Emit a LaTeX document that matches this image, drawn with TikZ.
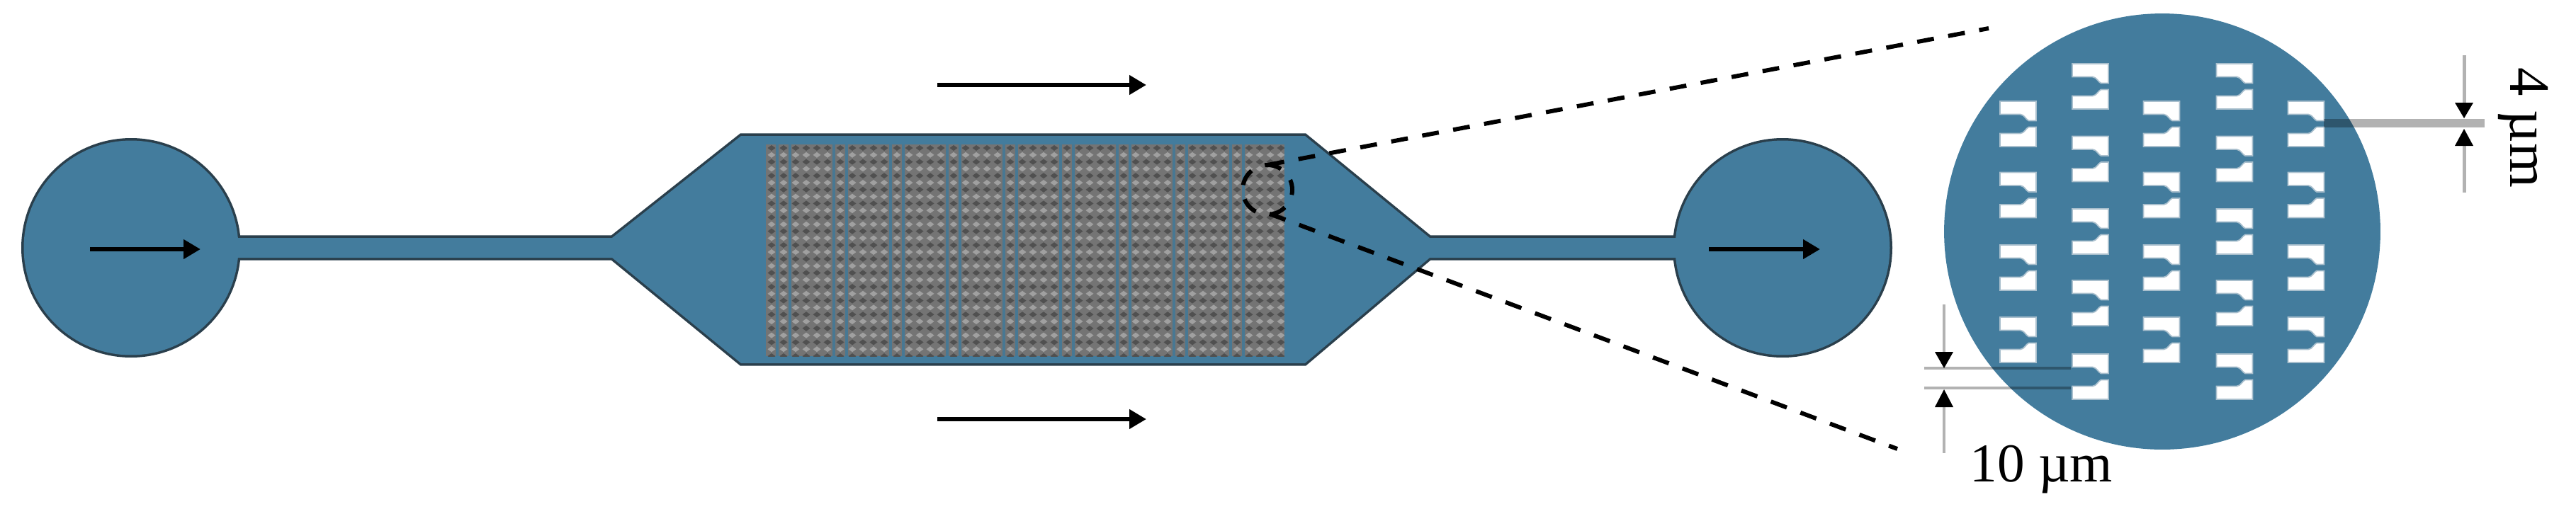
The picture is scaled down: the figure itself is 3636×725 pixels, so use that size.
\documentclass[tikz,border=0pt]{standalone}
\usepackage{fontspec}
\setmainfont{Liberation Serif}
\usetikzlibrary{arrows.meta}
\definecolor{chanblue}{HTML}{437C9D}
\definecolor{edgedark}{HTML}{2A3F4C}
\definecolor{gapblue}{HTML}{3A7A9E}
\definecolor{pillargrey}{HTML}{747474}
\definecolor{darkband}{HTML}{505050}
\definecolor{lightdot}{HTML}{A0A0A0}
\definecolor{holeedge}{HTML}{A9BFCD}
\tikzset{
  port/.style={circle,inner sep=0pt,minimum size=6.06cm},
  flowarrow/.style={line width=3.4pt,black,-{Triangle[length=13.6pt,width=15pt]}},
  zoomdash/.style={line width=3.4pt,black,dash pattern=on 13.6pt off 11.7pt},
  dimline/.style={black,opacity=0.3,line width=2.8pt},
  dimband/.style={black,opacity=0.3,line width=6.8pt},
  holepair/.pic={
    \filldraw[fill=white,draw=holeedge,line width=1pt]
      (-25.5,-32) -- (25.5,-32) -- (25.5,-4.5) -- (15,-4.5)
      .. controls (11,-6) and (9,-13) .. (3,-13.5) -- (-25.5,-13.5) -- cycle;
    \filldraw[fill=white,draw=holeedge,line width=1pt]
      (-25.5,32) -- (25.5,32) -- (25.5,4.5) -- (15,4.5)
      .. controls (11,6) and (9,13) .. (3,13.5) -- (-25.5,13.5) -- cycle;
  }
}
\begin{document}
\begin{tikzpicture}[x=0.02cm,y=-0.02cm]
\useasboundingbox (0,0) rectangle (3636,725);
% device: outline first, then fill on top so only the outer half of the stroke shows
\def\devicepath{(335,336) -- (864,336) -- (1046,192) -- (1842,192) -- (2018,336) -- (2365,336)
  -- (2365,364) -- (2018,364) -- (1842,513) -- (1046,513) -- (864,364) -- (335,364) -- cycle}
\draw[edgedark,line width=4pt] \devicepath;
\node[port,draw=edgedark,line width=4pt] (inletb) at (185,350) {};
\node[port,draw=edgedark,line width=4pt] (outletb) at (2516,350) {};
\fill[chanblue] \devicepath;
\node[port,fill=chanblue] (inlet) at (185,350) {};
\node[port,fill=chanblue] (outlet) at (2516,350) {};
% pillar array
\begin{scope}
  \clip (1081,204) rectangle (1813,503);
  \fill[pillargrey] (1081,204) rectangle (1813,503);
  \foreach \r in {0,...,30} {
    \pgfmathsetmacro{\yr}{204+9.8*\r}
    \pgfmathtruncatemacro{\odd}{mod(\r,2)}
    \ifnum\odd=0 \colorlet{dotc}{darkband}\else\colorlet{dotc}{lightdot}\fi
    \foreach \xb in {1089,1106,
      1123,1138,1153,1168,1186,1203,1218,1233,1248,1266,
      1283,1298,1313,1328,1346,1363,1378,1393,1408,1426,
      1443,1458,1473,1488,1506,1523,1538,1553,1568,1586,
      1603,1618,1633,1648,1666,1683,1698,1713,1728,1746,
      1763,1778,1793,1808} {
      \fill[dotc] (\xb-5.5,\yr+5) -- (\xb,\yr+1) -- (\xb+5.5,\yr+5) -- (\xb,\yr+9) -- cycle;
    }
  }
  \foreach \xg in {1097,1115,1177,1195,1257,1275,1337,1355,1417,1435,1497,1515,1577,1595,1657,1675,1737,1755} {
    \draw[gapblue,opacity=0.75,line width=2.4pt] (\xg,204) -- (\xg,503);
  }
\end{scope}
% zoom marks
\coordinate (zoomc) at (1789,268);
\coordinate (upstart) at (1789,233);
\coordinate (upend) at (2807,40);
\coordinate (lowstart) at (1792,302);
\coordinate (lowend) at (2678,634);
\draw[zoomdash,dash phase=9.5pt] (zoomc) circle [radius=35];
\draw[zoomdash] (upstart) -- (upend);
\draw[zoomdash] (lowstart) -- (lowend);
% flow arrows
\coordinate (fa1) at (127,352); \coordinate (fa2) at (283,352);
\coordinate (fb1) at (2412,352); \coordinate (fb2) at (2569,352);
\coordinate (fc1) at (1323,120); \coordinate (fc2) at (1618,120);
\coordinate (fd1) at (1323,592); \coordinate (fd2) at (1618,592);
\draw[flowarrow] (fa1) -- (fa2);
\draw[flowarrow] (fb1) -- (fb2);
\draw[flowarrow] (fc1) -- (fc2);
\draw[flowarrow] (fd1) -- (fd2);
% magnified circle
\node[circle,inner sep=0pt,minimum size=12.32cm,fill=chanblue] (lens) at (3052,327) {};
\foreach \cx in {2848.5,3051,3255} \foreach \cy in {175,275.5,378,480} { \pic at (\cx,\cy) {holepair}; }
\foreach \cx in {2950.5,3154} \foreach \cy in {122,224.5,327,428,532} { \pic at (\cx,\cy) {holepair}; }
% 4 um dimension
\coordinate (da1) at (3478,78); \coordinate (da2) at (3478,145);
\coordinate (da3) at (3478,206); \coordinate (da4) at (3478,272);
\coordinate (da5) at (3280,174); \coordinate (da6) at (3507,174);
\draw[dimband] (da5) -- (da6);
\draw[dimline] (da1) -- (da2);
\draw[dimline] (da3) -- (da4);
\fill (3465,145) -- (3491,145) -- (3478,167) -- cycle;
\fill (3465,206) -- (3491,206) -- (3478,182) -- cycle;
\node[rotate=-90,anchor=base west,inner sep=0pt,font=\fontsize{46pt}{46pt}\selectfont] (lab4) at (3543,95) {4 µm};
% 10 um dimension
\coordinate (db1) at (2744,430); \coordinate (db2) at (2744,497);
\coordinate (db3) at (2744,575); \coordinate (db4) at (2744,640);
\coordinate (db5) at (2716,520); \coordinate (db6) at (2923,520);
\coordinate (db7) at (2716,548); \coordinate (db8) at (2923,548);
\draw[dimline] (db5) -- (db6);
\draw[dimline] (db7) -- (db8);
\draw[dimline] (db1) -- (db2);
\draw[dimline] (db3) -- (db4);
\fill (2731,497) -- (2757,497) -- (2744,520) -- cycle;
\fill (2731,575) -- (2757,575) -- (2744,550) -- cycle;
\node[anchor=base west,inner sep=0pt,font=\fontsize{44pt}{44pt}\selectfont] (lab10) at (2780,680) {10 µm};
\end{tikzpicture}
\end{document}
